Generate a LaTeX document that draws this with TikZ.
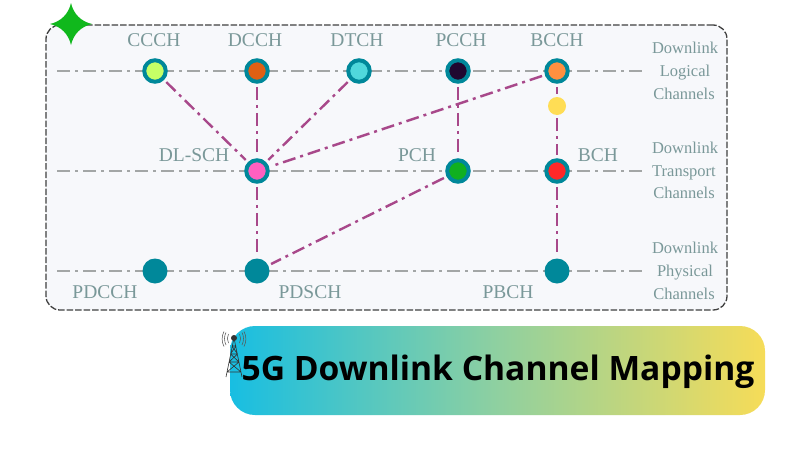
\documentclass[tikz,border=0pt]{standalone}
\usepackage{fontspec}
\setmainfont{Liberation Serif}
\newfontfamily\titlefont{Open Sans}
\usetikzlibrary{backgrounds,shapes.geometric}
\definecolor{teal1}{HTML}{00889A}
\definecolor{magline}{HTML}{A8488A}
\definecolor{grayline}{HTML}{A3A6A6}
\definecolor{labelc}{HTML}{7A9899}
\definecolor{panelc}{HTML}{F7F8FB}
\definecolor{bleft}{HTML}{18BEE2}
\definecolor{bmid}{HTML}{8FD0A0}
\definecolor{bright}{HTML}{F6DC58}
\tikzset{
  x=1pt,y=-1pt,
  chan/.style={circle,draw=teal1,line width=4pt,minimum size=21.5pt,inner sep=0pt},
  phys/.style={circle,fill=teal1,minimum size=25pt,inner sep=0pt},
  lab/.style={font=\fontsize{19.5}{20}\selectfont,text=labelc,inner sep=0pt},
  side/.style={font=\fontsize{16.5}{17}\selectfont,text=labelc,inner sep=0pt,anchor=base},
  grayl/.style={draw=grayline,line width=2pt,dash pattern=on 13pt off 5pt on 3pt off 5pt},
  magl/.style={draw=magline,line width=2.4pt,dash pattern=on 13pt off 5pt on 3pt off 5pt,shorten >=3pt,shorten <=3pt},
}
\begin{document}
\begin{tikzpicture}
\useasboundingbox (0,0) rectangle (800,450);
% free ends
\coordinate (l1a) at (57,71); \coordinate (l1b) at (642,71);
\coordinate (l2a) at (57,171); \coordinate (l2b) at (642,171);
\coordinate (l3a) at (57,271); \coordinate (l3b) at (642,271);
% logical
\node[chan,fill={rgb,255:red,198;green,255;blue,102}] (ccch) at (155,71) {};
\node[chan,fill={rgb,255:red,224;green,96;blue,20}] (dcch) at (257,71) {};
\node[chan,fill={rgb,255:red,80;green,216;blue,220}] (dtch) at (359,71) {};
\node[chan,fill={rgb,255:red,32;green,8;blue,48}] (pcch) at (458,71) {};
\node[chan,fill={rgb,255:red,255;green,144;blue,64}] (bcch) at (557,71) {};
\node[circle,fill={rgb,255:red,255;green,221;blue,85},minimum size=18pt,inner sep=0pt] (ybcch) at (557,106) {};
% transport
\node[chan,fill={rgb,255:red,255;green,96;blue,192}] (dlsch) at (257,171) {};
\node[chan,fill={rgb,255:red,16;green,176;blue,32}] (pch) at (458,171) {};
\node[chan,fill={rgb,255:red,255;green,40;blue,40}] (bch) at (557,171) {};
% physical
\node[phys] (pdcch) at (155,271) {};
\node[phys] (pdsch) at (257,271) {};
\node[phys] (pbch) at (557,271) {};
\begin{pgfonlayer}{background}
\fill[white] (0,0) rectangle (800,450);
\node[draw=black!75,fill=panelc,line width=1.3pt,dash pattern=on 6.5pt off 2pt,rounded corners=14pt,minimum width=681pt,minimum height=285pt,inner sep=0pt] (panel) at (386.5,167.5) {};
\draw[grayl] (l1a) -- (l1b);
\draw[grayl] (l2a) -- (l2b);
\draw[grayl] (l3a) -- (l3b);
\draw[magl] (ccch) -- (dlsch);
\draw[magl] (dcch) -- (dlsch);
\draw[magl] (dtch) -- (dlsch);
\draw[magl] (bcch) -- (dlsch);
\draw[magl] (dlsch) -- (pdsch);
\draw[magl] (pch) -- (pdsch);
\draw[magl] (pcch) -- (pch);
\draw[magl] (bcch) -- (ybcch);
\draw[magl] (ybcch) -- (bch);
\draw[magl] (bch) -- (pbch);
\end{pgfonlayer}
% labels
\node[lab] (t1) at (154,40) {CCCH};
\node[lab] (t2) at (255,40) {DCCH};
\node[lab] (t3) at (357,40) {DTCH};
\node[lab] (t4) at (461,40) {PCCH};
\node[lab] (t5) at (557,40) {BCCH};
\node[lab] (t6) at (194,155) {DL-SCH};
\node[lab] (t7) at (417,155) {PCH};
\node[lab] (t8) at (598,155) {BCH};
\node[lab] (t9) at (105,292) {PDCCH};
\node[lab] (t10) at (310,292) {PDSCH};
\node[lab] (t11) at (508,292) {PBCH};
\node[side] (s1) at (685,53.5) {Downlink};
\node[side] (s2) at (685,76.5) {Logical};
\node[side] (s3) at (684,99) {Channels};
\node[side] (s4) at (685,153.5) {Downlink};
\node[side] (s5) at (684,176.5) {Transport};
\node[side] (s6) at (684,198.5) {Channels};
\node[side] (s7) at (685,253.5) {Downlink};
\node[side] (s8) at (685,276.5) {Physical};
\node[side] (s9) at (684,299) {Channels};
% star
\fill[fill={rgb,255:red,16;green,184;blue,28}] (71,3) .. controls (73.5,14) and (81,21.5) .. (92,24)
  .. controls (81,26.5) and (73.5,34) .. (71,45)
  .. controls (68.5,34) and (61,26.5) .. (50,24)
  .. controls (61,21.5) and (68.5,14) .. (71,3) -- cycle;
% title
\node[rounded corners=25pt,minimum width=535pt,minimum height=89pt,inner sep=0pt,left color=bleft,right color=bright,middle color=bmid] (banner) at (497.5,370.5) {};
\node[font=\titlefont\bfseries\fontsize{33.6}{35}\selectfont,text=black,inner sep=0pt] (title) at (498,372) {5G Downlink Channel Mapping};
% tower
\draw[black!80,line width=.6pt] (234,338) -- (226,377) (234,338) -- (242,377)
  (232,346) -- (236,346) (230.5,354) -- (237.5,354) (229,362) -- (239,362) (227,372) -- (241,372)
  (232,346) -- (237.5,354) (236,346) -- (230.5,354) (230.5,354) -- (239,362) (237.5,354) -- (229,362) (229,362) -- (241,372) (239,362) -- (227,372);
\fill[black!80] (234,338) circle (3pt);
\draw[black!65,line width=.55pt]
  (228.5,334) .. controls (227,337) and (227,340) .. (228.5,343)
  (226,332.5) .. controls (224,336) and (224,341) .. (226,345)
  (224,331.5) .. controls (221.5,336) and (221.5,342) .. (224,346.5)
  (239.5,334) .. controls (241,337) and (241,340) .. (239.5,343)
  (242,332.5) .. controls (244,336) and (244,341) .. (242,345)
  (244,331.5) .. controls (246.5,336) and (246.5,342) .. (244,346.5);
\end{tikzpicture}
\end{document}
